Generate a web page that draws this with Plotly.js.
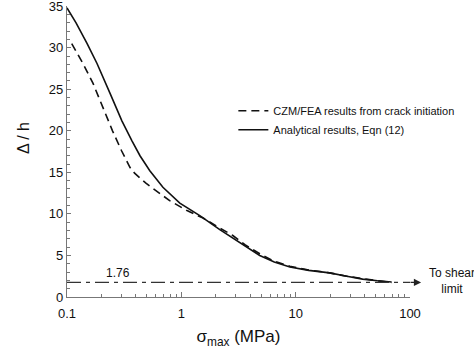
<!DOCTYPE html>
<html>
<head>
<meta charset="utf-8">
<script src="https://cdn.plot.ly/plotly-3.0.1.min.js"></script>
<style>html,body{margin:0;padding:0;background:#fff}#chart{width:474px;height:354px}</style>
</head>
<body>
<div id="chart"></div>
<script>
// Analytical results, Eqn (12)
var anaX = [0.1, 0.12, 0.15, 0.183, 0.238, 0.302, 0.37, 0.435, 0.53, 0.69, 0.97, 1.45, 2.17, 2.82, 3.6, 4.85, 6.5, 8.9, 13, 19.8, 28, 38.5, 52, 68.9];
var anaY = [34.8, 33.0, 30.5, 28.1, 24.5, 21.2, 18.8, 17.0, 15.2, 13.2, 11.3, 9.8, 8.1, 7.1, 6.1, 5.0, 4.2, 3.6, 3.2, 2.9, 2.5, 2.15, 1.95, 1.8];
// CZM/FEA results from crack initiation
var czmX = [0.11, 0.138, 0.169, 0.206, 0.25, 0.30, 0.355, 0.39, 0.435, 0.49, 0.56, 0.79, 1.12, 1.55, 2.17, 2.82, 3.6, 4.85, 6.5, 8.9, 13, 19.8, 28, 38.5, 52, 68.9];
var czmY = [30.5, 28.1, 25.7, 22.8, 20.0, 17.6, 15.6, 14.9, 14.3, 13.7, 13.1, 11.6, 10.4, 9.5, 8.3, 7.4, 6.3, 5.2, 4.3, 3.7, 3.25, 2.9, 2.5, 2.2, 1.95, 1.75];
// Shear limit line
var shearX = [0.1, 112];
var shearY = [1.76, 1.76];
var shearLabel = "1.76";

var tickVals = [0.1, 1, 10, 100];
var tickText = ["0.1", "1", "10", "100"];
var yTickVals = [0, 5, 10, 15, 20, 25, 30, 35];

var fnt = "Liberation Sans, Arial, sans-serif";

var traces = [
  {x: czmX, y: czmY, mode: "lines", name: "CZM/FEA results from crack initiation",
   line: {color: "#111", width: 1.6, dash: "8px,5px"}},
  {x: anaX, y: anaY, mode: "lines", name: "Analytical results, Eqn (12)",
   line: {color: "#111", width: 1.6}},
  {x: shearX, y: shearY, mode: "lines", showlegend: false,
   line: {color: "#333", width: 1.2, dash: "14px,5px,4px,5px"}}
];

var layout = {
  width: 474, height: 354,
  margin: {l: 67, r: 64, t: 6, b: 57},
  paper_bgcolor: "#fff", plot_bgcolor: "#fff",
  font: {family: fnt, color: "#111", size: 12},
  showlegend: true,
  legend: {x: 0.485, y: 0.69, xanchor: "left", yanchor: "top",
           font: {family: fnt, size: 11, color: "#111"}, bgcolor: "rgba(0,0,0,0)",
           tracegroupgap: 0, itemwidth: 30},
  xaxis: {
    type: "log", range: [-1, 2],
    tickvals: tickVals, ticktext: tickText,
    ticks: "inside", ticklen: 5, tickcolor: "#777",
    ticklabelstandoff: 4,
    showline: true, linecolor: "#777", linewidth: 1.2,
    showgrid: false, zeroline: false,
    minor: {ticks: "inside", ticklen: 3, tickcolor: "#777", dtick: "D1", showgrid: false},
    tickfont: {size: 13, family: fnt, color: "#111"},
    title: {text: "σ<sub>max</sub> (MPa)", font: {size: 17, family: fnt, color: "#111"}, standoff: 10}
  },
  yaxis: {
    range: [0, 35.02],
    tickvals: yTickVals,
    ticklabeloverflow: "allow",
    ticks: "inside", ticklen: 4, tickcolor: "#777",
    showline: true, linecolor: "#777", linewidth: 1.2,
    showgrid: false, zeroline: false,
    minor: {ticks: "inside", ticklen: 3, tickcolor: "#777", dtick: 1, showgrid: false},
    tickfont: {size: 13, family: fnt, color: "#111"}
  },
  annotations: [
    {xref: "paper", yref: "paper", x: -0.157, y: 0.545, text: "Δ / h", textangle: -90,
     showarrow: false, font: {size: 16, family: fnt, color: "#111"}},
    {x: Math.log10(0.28), y: 1.76, text: shearLabel, showarrow: false, yshift: 9,
     font: {size: 12, family: fnt, color: "#111"}},
    {x: Math.log10(125), y: 1.76, ax: Math.log10(98), ay: 1.76, axref: "x", ayref: "y",
     text: "", showarrow: true, arrowhead: 2, arrowsize: 1.2, arrowwidth: 1.2, arrowcolor: "#222"},
    {xref: "paper", yref: "paper", x: 1.122, y: 0.055, xanchor: "center", yanchor: "middle",
     text: "To shear<br>limit", showarrow: false,
     font: {size: 12, family: fnt, color: "#111"}, align: "center"}
  ]
};

Plotly.newPlot("chart", traces, layout, {displayModeBar: false, staticPlot: true});
</script>
</body>
</html>
